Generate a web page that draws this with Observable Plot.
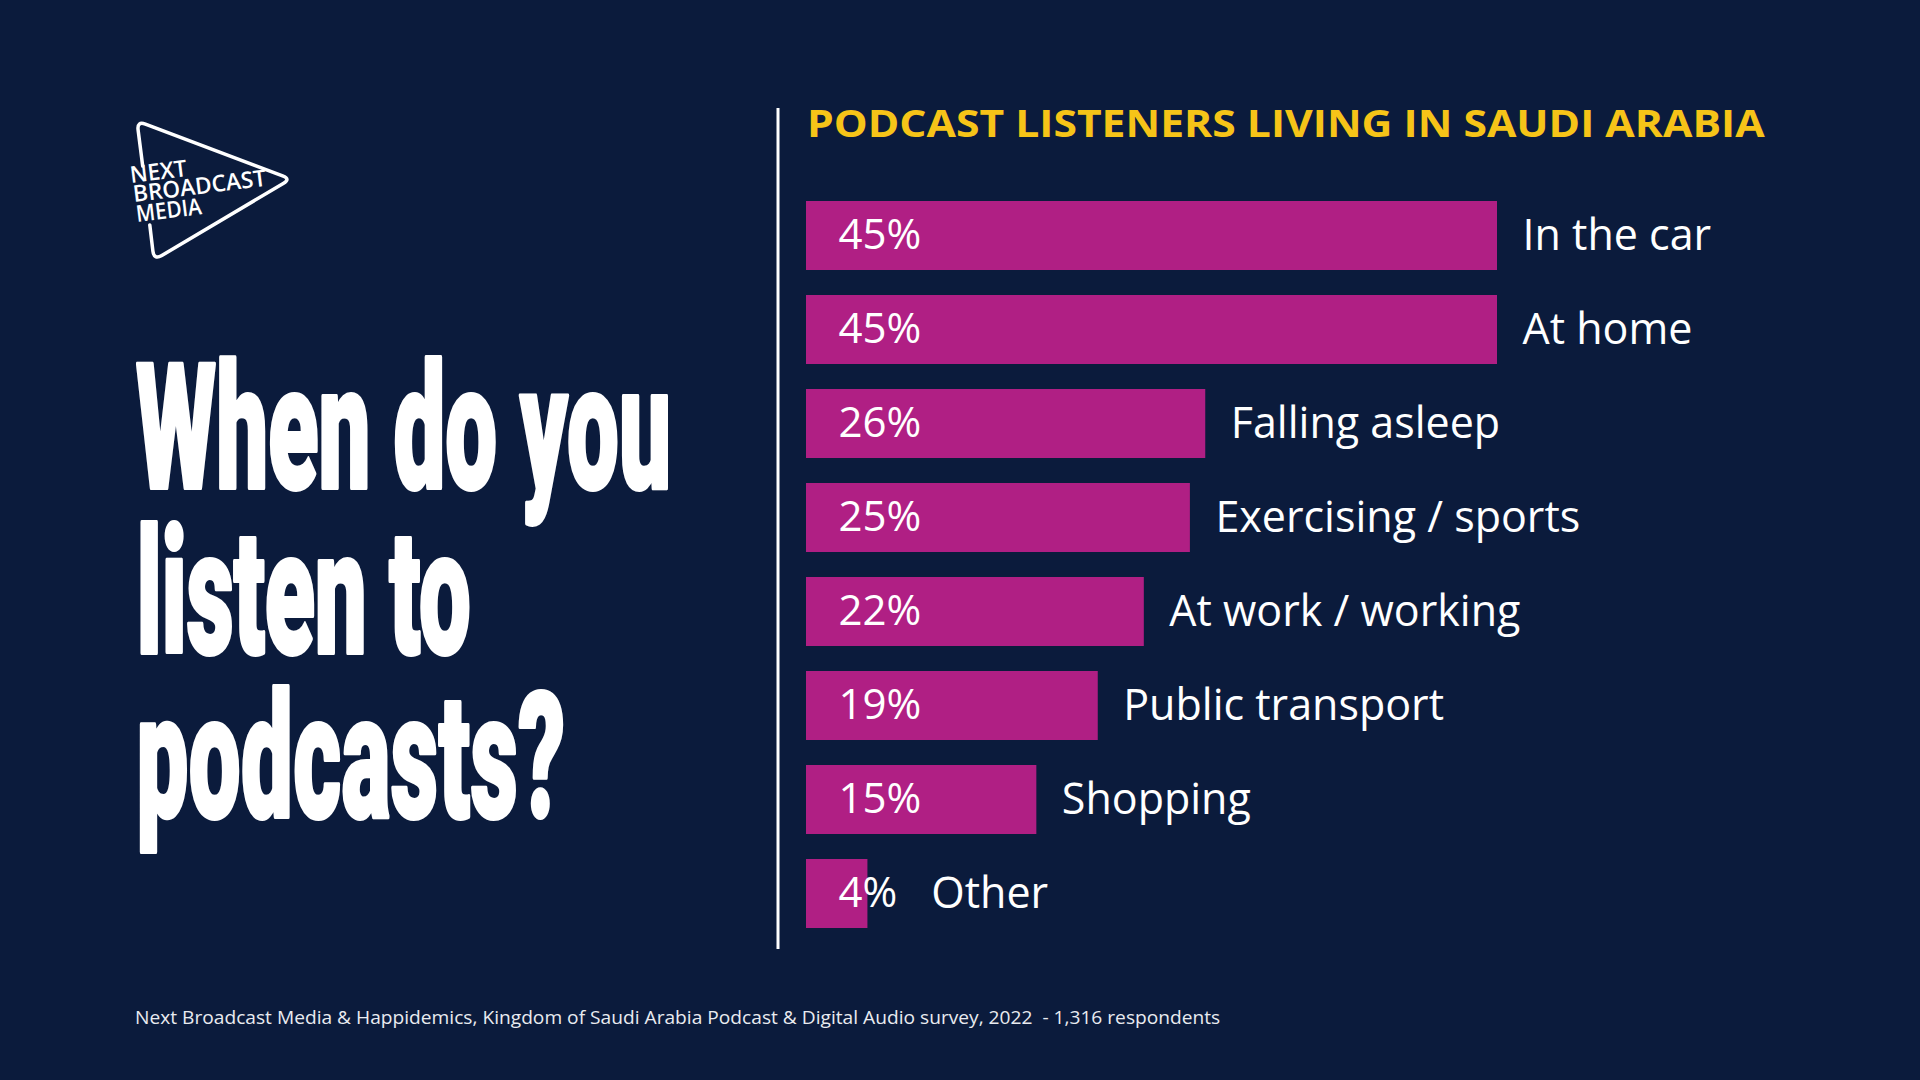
<!DOCTYPE html>
<html>
<head>
<meta charset="utf-8">
<script src="https://cdn.jsdelivr.net/npm/d3@7"></script>
<script src="https://cdn.jsdelivr.net/npm/@observablehq/plot@0.6"></script>
<style>
  html, body { margin: 0; padding: 0; background: #0b1b3c; }
  #page { position: relative; width: 1920px; height: 1080px; overflow: hidden; background: #0b1b3c; }
  #decor { position: absolute; left: 0; top: 0; }
  #chart { position: absolute; left: 780px; top: 150px; }
</style>
</head>
<body>
<div id="page">
  <svg id="decor" width="1920" height="1080" viewBox="0 0 1920 1080">
    <!-- brand mark: play triangle with the wordmark breaking its left edge -->
    <path fill="none" stroke="#ffffff" stroke-width="3.5" stroke-linejoin="round" stroke-linecap="round"
          d="M142.7,166 L138.1,130 Q137,121 145.4,124.2 L282.6,175.8 Q291,179 283.2,183.5 L161.8,255.5 Q154,260 152.9,251.1 L149.8,225"/>
    <g fill="#ffffff" font-family="'Open Sans', sans-serif" font-weight="600" font-size="23">
      <g transform="translate(131 183) rotate(-7)"><text data-fit="57">NEXT</text></g>
      <g transform="translate(134 202) rotate(-7)"><text data-fit="134">BROADCAST</text></g>
      <g transform="translate(137 222) rotate(-7)"><text data-fit="66">MEDIA</text></g>
    </g>

    <!-- headline: one text block, three lines set to their own measures -->
    <g transform="translate(136 488)">
      <text id="headline" fill="#ffffff" stroke="#ffffff" stroke-width="4" stroke-linejoin="round" paint-order="stroke"
            font-family="Roboto, Inter, 'DejaVu Sans', sans-serif" font-weight="900" font-size="174">
        <tspan x="0" y="0" data-measure="535">When do you</tspan>
        <tspan x="1" y="165" data-measure="334">listen to</tspan>
        <tspan x="1" y="329" data-measure="429">podcasts?</tspan>
      </text>
    </g>

    <!-- divider -->
    <rect x="776.5" y="108" width="3" height="841" fill="#ffffff"/>

    <!-- chart heading -->
    <g transform="translate(807 137)">
      <text data-fit="958" fill="#f6c418" font-family="'Open Sans', sans-serif" font-weight="700" font-size="37">PODCAST LISTENERS LIVING IN SAUDI ARABIA</text>
    </g>

    <!-- source -->
    <g transform="translate(135 1024)">
      <text data-fit="1086" fill="#e9ebf0" font-family="'Open Sans', sans-serif" font-size="18.5"
            xml:space="preserve">Next Broadcast Media &amp; Happidemics, Kingdom of Saudi Arabia Podcast &amp; Digital Audio survey, 2022  - 1,316 respondents</text>
    </g>
  </svg>
  <div id="chart"></div>
</div>
<script>
// Where podcast listeners in Saudi Arabia listen (% of respondents)
const categories = [
  "In the car",
  "At home",
  "Falling asleep",
  "Exercising / sports",
  "At work / working",
  "Public transport",
  "Shopping",
  "Other"
];
const shares = [45, 45, 26, 25, 22, 19, 15, 4];

const rows = categories.map((label, i) => ({label, value: shares[i]}));

// Category names sit just past the bar end, but never on top of the
// percentage printed inside a very short bar.
const labelClear = 6.5;

const chart = Plot.plot({
  width: 1140,
  height: 810,
  marginLeft: 26,
  marginRight: 423,
  marginTop: 38,
  marginBottom: 19,
  style: {background: "none", color: "#ffffff", fontFamily: "'Open Sans', sans-serif", overflow: "visible"},
  x: {domain: [0, 45], axis: null},
  y: {domain: categories, axis: null, paddingInner: 0.27, paddingOuter: 0.135},
  marks: [
    Plot.barX(rows, {x: "value", y: "label", fill: "#b01f84"}),
    Plot.text(rows, {
      x: 0, y: "label", text: d => `${d.value}%`,
      textAnchor: "start", dx: 32, fill: "#ffffff", fontSize: 42
    }),
    Plot.text(rows, {
      x: d => Math.max(d.value, labelClear), y: "label", text: "label",
      textAnchor: "start", dx: 25, fill: "#ffffff", fontSize: 43
    })
  ]
});

document.getElementById("chart").appendChild(chart);

// Squeeze or stretch single-line display type horizontally to its set measure.
for (const el of document.querySelectorAll("#decor text[data-fit]")) {
  const target = +el.getAttribute("data-fit");
  const natural = el.getComputedTextLength();
  if (natural > 0) el.setAttribute("transform", `scale(${target / natural},1)`);
}

// Headline: one condensing factor from the first line, then letter-spacing
// brings each following line to its own measure.
{
  const headline = document.getElementById("headline");
  const lines = [...headline.querySelectorAll("tspan")];
  const widths = lines.map(t => t.getComputedTextLength());
  const sx = +lines[0].getAttribute("data-measure") / widths[0];
  headline.setAttribute("transform", `scale(${sx},1)`);
  lines.forEach((t, i) => {
    if (i === 0) return;
    const want = +t.getAttribute("data-measure") / sx;
    const n = t.textContent.length;
    t.setAttribute("letter-spacing", ((want - widths[i]) / n).toFixed(2));
  });
}
</script>
</body>
</html>
